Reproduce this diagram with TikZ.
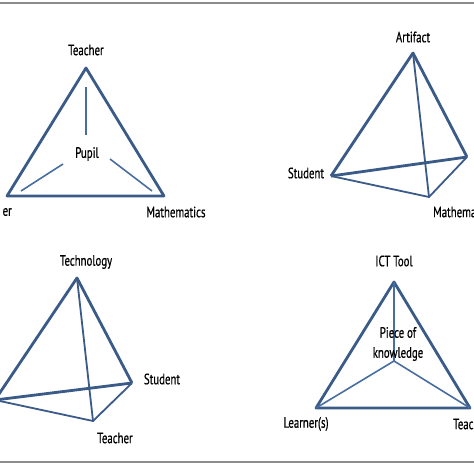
\documentclass[tikz,border=0pt]{standalone}
\usepackage{fontspec}
\setmainfont[FakeStretch=0.72,FakeBold=0.6]{PT Sans}
\begin{document}
\begin{tikzpicture}[x=1pt,y=-1pt,
  edge/.style={line width=2.8pt, line join=round, color={rgb,255:red,58;green,90;blue,135}},
  thin/.style={line width=1.8pt, color={rgb,255:red,58;green,90;blue,135}},
  inner/.style={line width=1.6pt, color={rgb,255:red,72;green,110;blue,160}},
  lbl/.style={font=\fontsize{15}{16}\selectfont, inner sep=0pt, text=black},
  rule/.style={line width=2pt, color={rgb,255:red,140;green,140;blue,140}}]
\useasboundingbox (0,0) rectangle (474,474);
\coordinate (L0) at (0,3); \coordinate (R0) at (474,3);
\coordinate (L1) at (0,462); \coordinate (R1) at (474,462);
\draw[rule] (L0) -- (R0);
\draw[rule] (L1) -- (R1);
% Panel 1
\coordinate (a1) at (86,68); \coordinate (b1) at (7,196); \coordinate (c1) at (164,196);
\coordinate (p1a) at (86,87); \coordinate (p1b) at (86,135);
\coordinate (p2a) at (21,191); \coordinate (p2b) at (63,164);
\coordinate (p3a) at (110,159); \coordinate (p3b) at (152,191);
\draw[edge] (a1) -- (b1) -- (c1) -- cycle;
\draw[inner] (p1a) -- (p1b);
\draw[inner] (p2a) -- (p2b);
\draw[inner] (p3a) -- (p3b);
\node[lbl] (t1) at (86,50) {Teacher};
\node[lbl] (pu) at (87,154) {Pupil};
\node[lbl,anchor=east] (le) at (12,212) {er};
\node[lbl] (ma) at (176,212) {Mathematics};
% Panel 2
\coordinate (a2) at (413,53); \coordinate (s2) at (331,176);
\coordinate (r2) at (467,157); \coordinate (m2) at (429,197);
\draw[edge] (s2) -- (a2) -- (r2);
\draw[edge] (s2) -- (r2);
\draw[thin] (a2) -- (m2);
\draw[thin] (s2) -- (m2) -- (r2);
\node[lbl] (ar) at (413,37) {Artifact};
\node[lbl] (st2) at (306,173) {Student};
\node[lbl,anchor=west] (ma2) at (433,212) {Mathema};
% Panel 3
\coordinate (a3) at (77,278); \coordinate (l3) at (-5,400);
\coordinate (s3) at (132,383); \coordinate (t3) at (93,421);
\draw[edge] (l3) -- (a3) -- (s3);
\draw[edge] (l3) -- (s3);
\draw[thin] (a3) -- (t3);
\draw[thin] (l3) -- (t3) -- (s3);
\node[lbl] (te) at (86,262) {Technology};
\node[lbl] (st3) at (162,379) {Student};
\node[lbl] (tc3) at (115,438) {Teacher};
% Panel 4
\coordinate (a4) at (394,282); \coordinate (l4) at (316,408);
\coordinate (r4) at (470,408); \coordinate (c4) at (394,361);
\draw[edge] (a4) -- (l4) -- (r4) -- cycle;
\draw[inner] (c4) -- (a4);
\draw[inner] (c4) -- (l4);
\draw[inner] (c4) -- (r4);
\node[lbl] (ict) at (394,261) {ICT Tool};
\node[lbl,align=center,font=\fontsize{15}{20}\selectfont] (pk) at (398,344) {Piece of\\knowledge};
\node[lbl] (lr) at (306,424) {Learner(s)};
\node[lbl,anchor=west] (tc4) at (453,424) {Teac};
\end{tikzpicture}
\end{document}
